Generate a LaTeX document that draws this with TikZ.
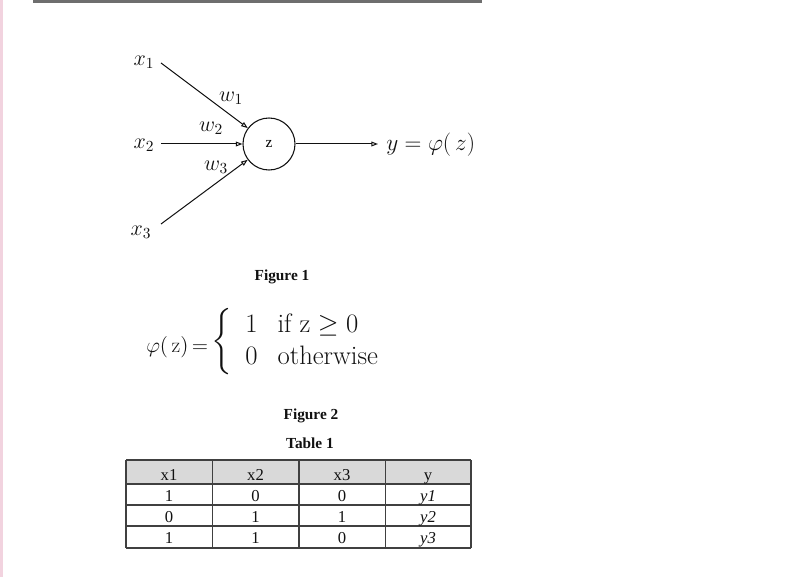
\documentclass[tikz,border=0pt]{standalone}
\usepackage{fix-cm}
\usepackage{amsmath}
\usepackage{fontspec}
\newfontfamily\tabfont{Liberation Serif}
\usetikzlibrary{arrows.meta}
\definecolor{pinkline}{HTML}{F2D3DF}
\definecolor{barcol}{HTML}{6E6E6E}
\definecolor{headfill}{HTML}{D9D9D9}
\definecolor{tabline}{HTML}{404040}
\definecolor{inkcol}{HTML}{111111}
\tikzset{
  lbl/.style={inner sep=0pt, font=\fontsize{16.5}{18}\selectfont, text=inkcol},
  neuron/.style={circle, draw=inkcol, line width=0.8pt, minimum size=39pt, inner sep=0pt, font=\tabfont\fontsize{11.5}{12}\selectfont},
  conn/.style={draw=inkcol, line width=0.75pt, -{Triangle[open,length=5pt,width=3.6pt]}},
  captiontext/.style={font=\tabfont\bfseries\fontsize{11.5}{13}\selectfont, text=inkcol, inner sep=0pt},
  cell/.style={font=\tabfont\fontsize{12.5}{14}\selectfont, text=inkcol, inner sep=0pt, anchor=base},
  tl/.style={draw=tabline, line width=1.4pt}
}
\begin{document}
\begin{tikzpicture}[x=0.75pt,y=-0.75pt]
\useasboundingbox (0,0) rectangle (800,577);
\fill[white] (0,0) rectangle (800,577);
\fill[pinkline] (0,0) rectangle (2.5,577);
\fill[barcol] (33,0) rectangle (482,3.5);
% neuron
\node[neuron] (z) at (269,144) {z};
\node[lbl] (x1) at (144,62) {$x_1$};
\node[lbl] (x2) at (144,145) {$x_2$};
\node[lbl] (x3) at (141,232) {$x_3$};
\coordinate (s1) at (161,63);
\coordinate (s2) at (161,144);
\coordinate (s3) at (161,224);
\draw[conn] (s1) -- (z);
\draw[conn] (s2) -- (z);
\draw[conn] (s3) -- (z);
\node[lbl] (w1) at (231,98) {$w_1$};
\node[lbl] (w2) at (211,128) {$w_2$};
\node[lbl] (w3) at (216,167) {$w_3$};
\node[lbl, anchor=west, font=\fontsize{17.5}{19}\selectfont] (y) at (386,145) {$y = \varphi(\,z)$};
\coordinate (yend) at (378,144);
\draw[conn] (z) -- (yend);
\node[captiontext] (f1) at (282,277) {Figure 1};
% formula
\node[inner sep=0pt, anchor=west, text=inkcol, font=\fontsize{16}{19}\selectfont] (lhs) at (146,347)
  {$\varphi(\,\mathrm{z})\mskip-2mu =$};
\node[inner sep=0pt, anchor=west, text=inkcol, font=\fontsize{20}{24}\selectfont] (rhs) at (211,342)
  {$\left\{\begin{array}{@{\hspace{10pt}}l@{\hspace{15pt}}l} 1 & \mbox{if z} \geq 0 \\ 0 & \mbox{otherwise}\end{array}\right.$};
\node[captiontext] (f2) at (311,416) {Figure 2};
\node[captiontext] (t1) at (310,443) {Table 1};
% table
\fill[headfill] (126,460) rectangle (471,484);
\foreach \yy in {460,484,505,526,548} \draw[tl] (126,\yy) -- (471,\yy);
\foreach \xx in {126,212.5,299,385.5,471} \draw[tl] (\xx,460) -- (\xx,548);
\node[cell] (h1) at (169,480) {x1};
\node[cell] (h2) at (255.5,480) {x2};
\node[cell] (h3) at (342,480) {x3};
\node[cell] (h4) at (428,480) {y};
\node[cell] (a1) at (169,501) {1};
\node[cell] (a2) at (255.5,501) {0};
\node[cell] (a3) at (342,501) {0};
\node[cell] (a4) at (428,501) {\itshape y1};
\node[cell] (b1) at (169,522) {0};
\node[cell] (b2) at (255.5,522) {1};
\node[cell] (b3) at (342,522) {1};
\node[cell] (b4) at (428,522) {\itshape y2};
\node[cell] (c1) at (169,543) {1};
\node[cell] (c2) at (255.5,543) {1};
\node[cell] (c3) at (342,543) {0};
\node[cell] (c4) at (428,543) {\itshape y3};
\end{tikzpicture}
\end{document}
